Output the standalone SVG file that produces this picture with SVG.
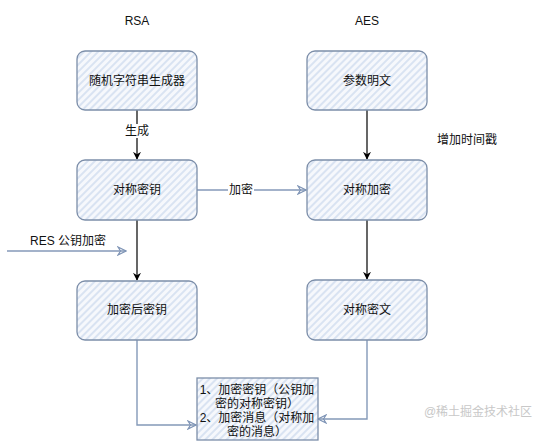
<svg xmlns="http://www.w3.org/2000/svg" width="538" height="441" viewBox="0 0 538 441">
<defs>
<pattern id="hatch" width="5" height="5" patternUnits="userSpaceOnUse" patternTransform="rotate(45)">
<rect width="5" height="5" fill="#f6f8fc"/>
<line x1="1" y1="0" x2="1" y2="5" stroke="#d0dcef" stroke-width="1.5"/>
</pattern>
<marker id="blk" viewBox="0 0 10 10" refX="9" refY="5" markerWidth="8" markerHeight="8" orient="auto" markerUnits="userSpaceOnUse">
<path d="M0,0 L10,5 L0,10 L3,5 Z" fill="#000"/>
</marker>
<marker id="open" viewBox="0 0 10 10" refX="9" refY="5" markerWidth="10" markerHeight="10" orient="auto" markerUnits="userSpaceOnUse">
<path d="M1,1 L9,5 L1,9 L3.5,5 Z" fill="none" stroke="#7d93b5" stroke-width="1.2"/>
</marker>
</defs>
<style>
.box{fill:url(#hatch);stroke:#7c8ea9;stroke-width:1.3}
.t{font-family:"Liberation Sans","Noto Sans CJK SC",sans-serif;font-size:12px;fill:#111;text-anchor:middle;dominant-baseline:central}
.b{stroke:#000;stroke-width:1.2;fill:none}
.g{stroke:#8499b8;stroke-width:1.4;fill:none}
.lbl{fill:#fff}
</style>
<rect width="538" height="441" fill="#fff"/>
<text class="t" x="137" y="21">RSA</text>
<text class="t" x="367" y="21">AES</text>
<text class="t" x="467" y="140">增加时间戳</text>
<g id="connectors">
<path class="b" d="M137,110 V159" marker-end="url(#blk)"/>
<rect class="lbl" x="125" y="124" width="24" height="14"/>
<text class="t" x="137" y="131">生成</text>
<path class="b" d="M367,110 V159" marker-end="url(#blk)"/>
<path class="b" d="M137,220 V280" marker-end="url(#blk)"/>
<path class="b" d="M367,220 V279" marker-end="url(#blk)"/>
<path class="g" d="M197,190 H306" marker-end="url(#open)"/>
<rect class="lbl" x="228" y="183" width="26" height="14"/>
<text class="t" x="241" y="190">加密</text>
<path class="g" d="M7,251 H126" marker-end="url(#open)"/>
<text class="t" x="68" y="241">RES 公钥加密</text>
<path class="g" d="M137,340 V425 H196" marker-end="url(#open)"/>
<path class="g" d="M367,340 V419 H318" marker-end="url(#open)"/>
</g>
<g id="n1"><rect class="box" x="77" y="51" width="120" height="59" rx="8"/><text class="t" x="137" y="80.5">随机字符串生成器</text></g>
<g id="n2"><rect class="box" x="307" y="51" width="120" height="59" rx="8"/><text class="t" x="367" y="80.5">参数明文</text></g>
<g id="n3"><rect class="box" x="77" y="160" width="120" height="60" rx="8"/><text class="t" x="137" y="190">对称密钥</text></g>
<g id="n4"><rect class="box" x="307" y="160" width="120" height="60" rx="8"/><text class="t" x="367" y="190">对称加密</text></g>
<g id="n5"><rect class="box" x="77" y="281" width="120" height="59" rx="8"/><text class="t" x="137" y="310">加密后密钥</text></g>
<g id="n6"><rect class="box" x="307" y="280" width="120" height="60" rx="8"/><text class="t" x="367" y="310">对称密文</text></g>
<g id="n7"><rect class="box" x="197" y="378" width="121" height="62"/>
<text class="t" x="257" y="390">1、加密密钥（公钥加</text>
<text class="t" x="257" y="404">密的对称密钥）</text>
<text class="t" x="257" y="418">2、加密消息（对称加</text>
<text class="t" x="257" y="432">密的消息）</text>
</g>
<text x="478" y="412" font-family="Liberation Sans,Noto Sans CJK SC,sans-serif" font-size="12" fill="#c8c8c8" text-anchor="middle" dominant-baseline="central">@稀土掘金技术社区</text>
</svg>
